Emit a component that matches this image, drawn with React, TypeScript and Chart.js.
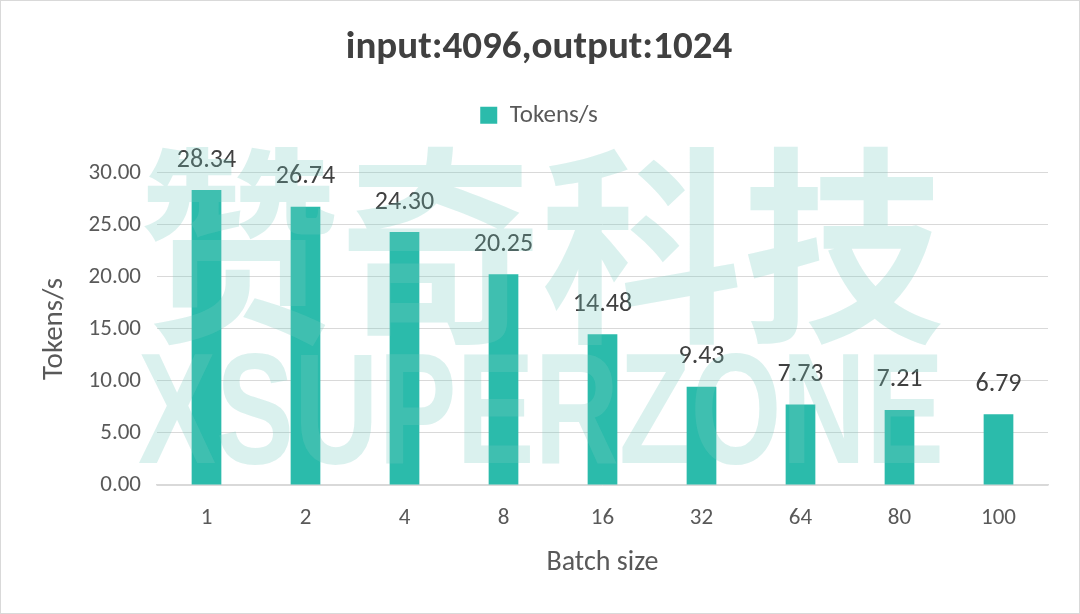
import React, { useEffect, useRef } from "react";
import { Chart, registerables } from "chart.js";

Chart.register(...registerables);

const batchSizes = ["1", "2", "4", "8", "16", "32", "64", "80", "100"];
const tokensPerSec = [28.34, 26.74, 24.3, 20.25, 14.48, 9.43, 7.73, 7.21, 6.79];
const yTickValues = [0, 5, 10, 15, 20, 25, 30];
const chartTitle = "input:4096,output:1024";
const seriesName = "Tokens/s";
const xAxisTitle = "Batch size";
const yAxisTitle = "Tokens/s";
const watermarkCN = "赞奇科技";
const watermarkEN = "XSUPERZONE";

const FONT = "Carlito, Calibri, Lato, 'Open Sans', sans-serif";
const BAR = "#2BBBAB";
const TEXT = "#595959";

const frame = {
  id: "frame",
  beforeDraw(chart: any) {
    const { ctx, width, height } = chart;
    ctx.save();
    ctx.fillStyle = "#ffffff";
    ctx.fillRect(0, 0, width, height);
    ctx.strokeStyle = "#d9d9d9";
    ctx.lineWidth = 1;
    ctx.strokeRect(0.5, 0.5, width - 1, height - 1);
    ctx.restore();
  },
};

const legendSpacer = {
  id: "legendSpacer",
  beforeLayout(chart: any) {
    const lg = chart.legend;
    if (lg && !lg.__patched) {
      const orig = lg.fit.bind(lg);
      lg.fit = function () {
        orig();
        this.height += 35;
      };
      lg.__patched = true;
    }
  },
};

const valueLabels = {
  id: "valueLabels",
  afterDatasetsDraw(chart: any) {
    const { ctx } = chart;
    const meta = chart.getDatasetMeta(0);
    const data = chart.data.datasets[0].data as number[];
    ctx.save();
    ctx.font = `26px ${FONT}`;
    ctx.fillStyle = "#404040";
    ctx.textAlign = "center";
    ctx.textBaseline = "middle";
    meta.data.forEach((bar: any, i: number) => {
      ctx.fillText(data[i].toFixed(2), bar.x, bar.y - 30);
    });
    ctx.restore();
  },
};

const watermark = {
  id: "watermark",
  afterDraw(chart: any) {
    const { ctx } = chart;
    const left = 138;
    const right = 944;
    const w = right - left;
    const cx = (left + right) / 2;
    ctx.save();
    ctx.fillStyle = "rgba(120, 205, 192, 0.27)";
    ctx.textAlign = "center";
    ctx.font = `bold 210px 'Noto Sans CJK SC'`;
    ctx.textBaseline = "middle";
    let m = ctx.measureText(watermarkCN).width;
    ctx.save();
    ctx.translate(cx, 246);
    ctx.scale(w / m, 1);
    ctx.fillText(watermarkCN, 0, 0);
    ctx.restore();
    ctx.font = `bold 158px 'Liberation Sans'`;
    ctx.textBaseline = "alphabetic";
    m = ctx.measureText(watermarkEN).width;
    ctx.save();
    ctx.translate(cx, 463);
    ctx.scale(w / m, 1);
    ctx.fillText(watermarkEN, 0, 0);
    ctx.restore();
    ctx.restore();
  },
};

export default function App() {
  const ref = useRef<HTMLCanvasElement | null>(null);

  useEffect(() => {
    if (!ref.current) return;
    const chart = new Chart(ref.current, {
      type: "bar",
      data: {
        labels: batchSizes,
        datasets: [
          {
            label: seriesName,
            data: tokensPerSec,
            backgroundColor: BAR,
            borderWidth: 0,
            barPercentage: 0.3,
            categoryPercentage: 1,
          },
        ],
      },
      options: {
        responsive: false,
        animation: false,
        layout: { padding: { top: 0, left: 30, right: 32, bottom: 34 } },
        plugins: {
          title: {
            display: true,
            text: chartTitle,
            color: "#404040",
            font: { family: FONT, size: 39, weight: "bold" },
            padding: { top: 25, bottom: 21 },
          },
          legend: {
            display: true,
            position: "top",
            labels: {
              color: TEXT,
              font: { family: FONT, size: 25 },
              boxWidth: 17,
              boxHeight: 17,
              padding: 10,
            },
          },
          tooltip: { enabled: false },
        },
        scales: {
          x: {
            afterFit: (scale: any) => {
              scale.height = 95;
            },
            grid: { display: false, drawTicks: false },
            border: { display: true, color: "#d9d9d9", width: 1.5 },
            ticks: {
              color: TEXT,
              font: { family: FONT, size: 23 },
              padding: 19,
            },
            title: {
              display: true,
              text: xAxisTitle,
              color: TEXT,
              font: { family: FONT, size: 28 },
              padding: { top: 0, bottom: 0 },
            },
          },
          y: {
            min: 0,
            max: 30,
            afterBuildTicks: (scale: any) => {
              scale.ticks = yTickValues.map((v) => ({ value: v }));
            },
            afterFit: (scale: any) => {
              scale.width = 127;
            },
            grid: { color: "#d9d9d9", lineWidth: 1, drawTicks: false },
            border: { display: false },
            ticks: {
              color: TEXT,
              font: { family: FONT, size: 23 },
              padding: 16,
              callback: (v: any) => Number(v).toFixed(2),
            },
            title: {
              display: true,
              text: yAxisTitle,
              color: TEXT,
              font: { family: FONT, size: 29 },
              padding: { top: 7, bottom: 0 },
            },
          },
        },
      },
      plugins: [frame, legendSpacer, valueLabels, watermark],
    });
    return () => chart.destroy();
  }, []);

  return (
    <div style={{ position: "absolute", left: 0, top: 0, width: 1080, height: 614 }}>
      <canvas ref={ref} width={1080} height={614} style={{ width: 1080, height: 614 }} />
    </div>
  );
}
